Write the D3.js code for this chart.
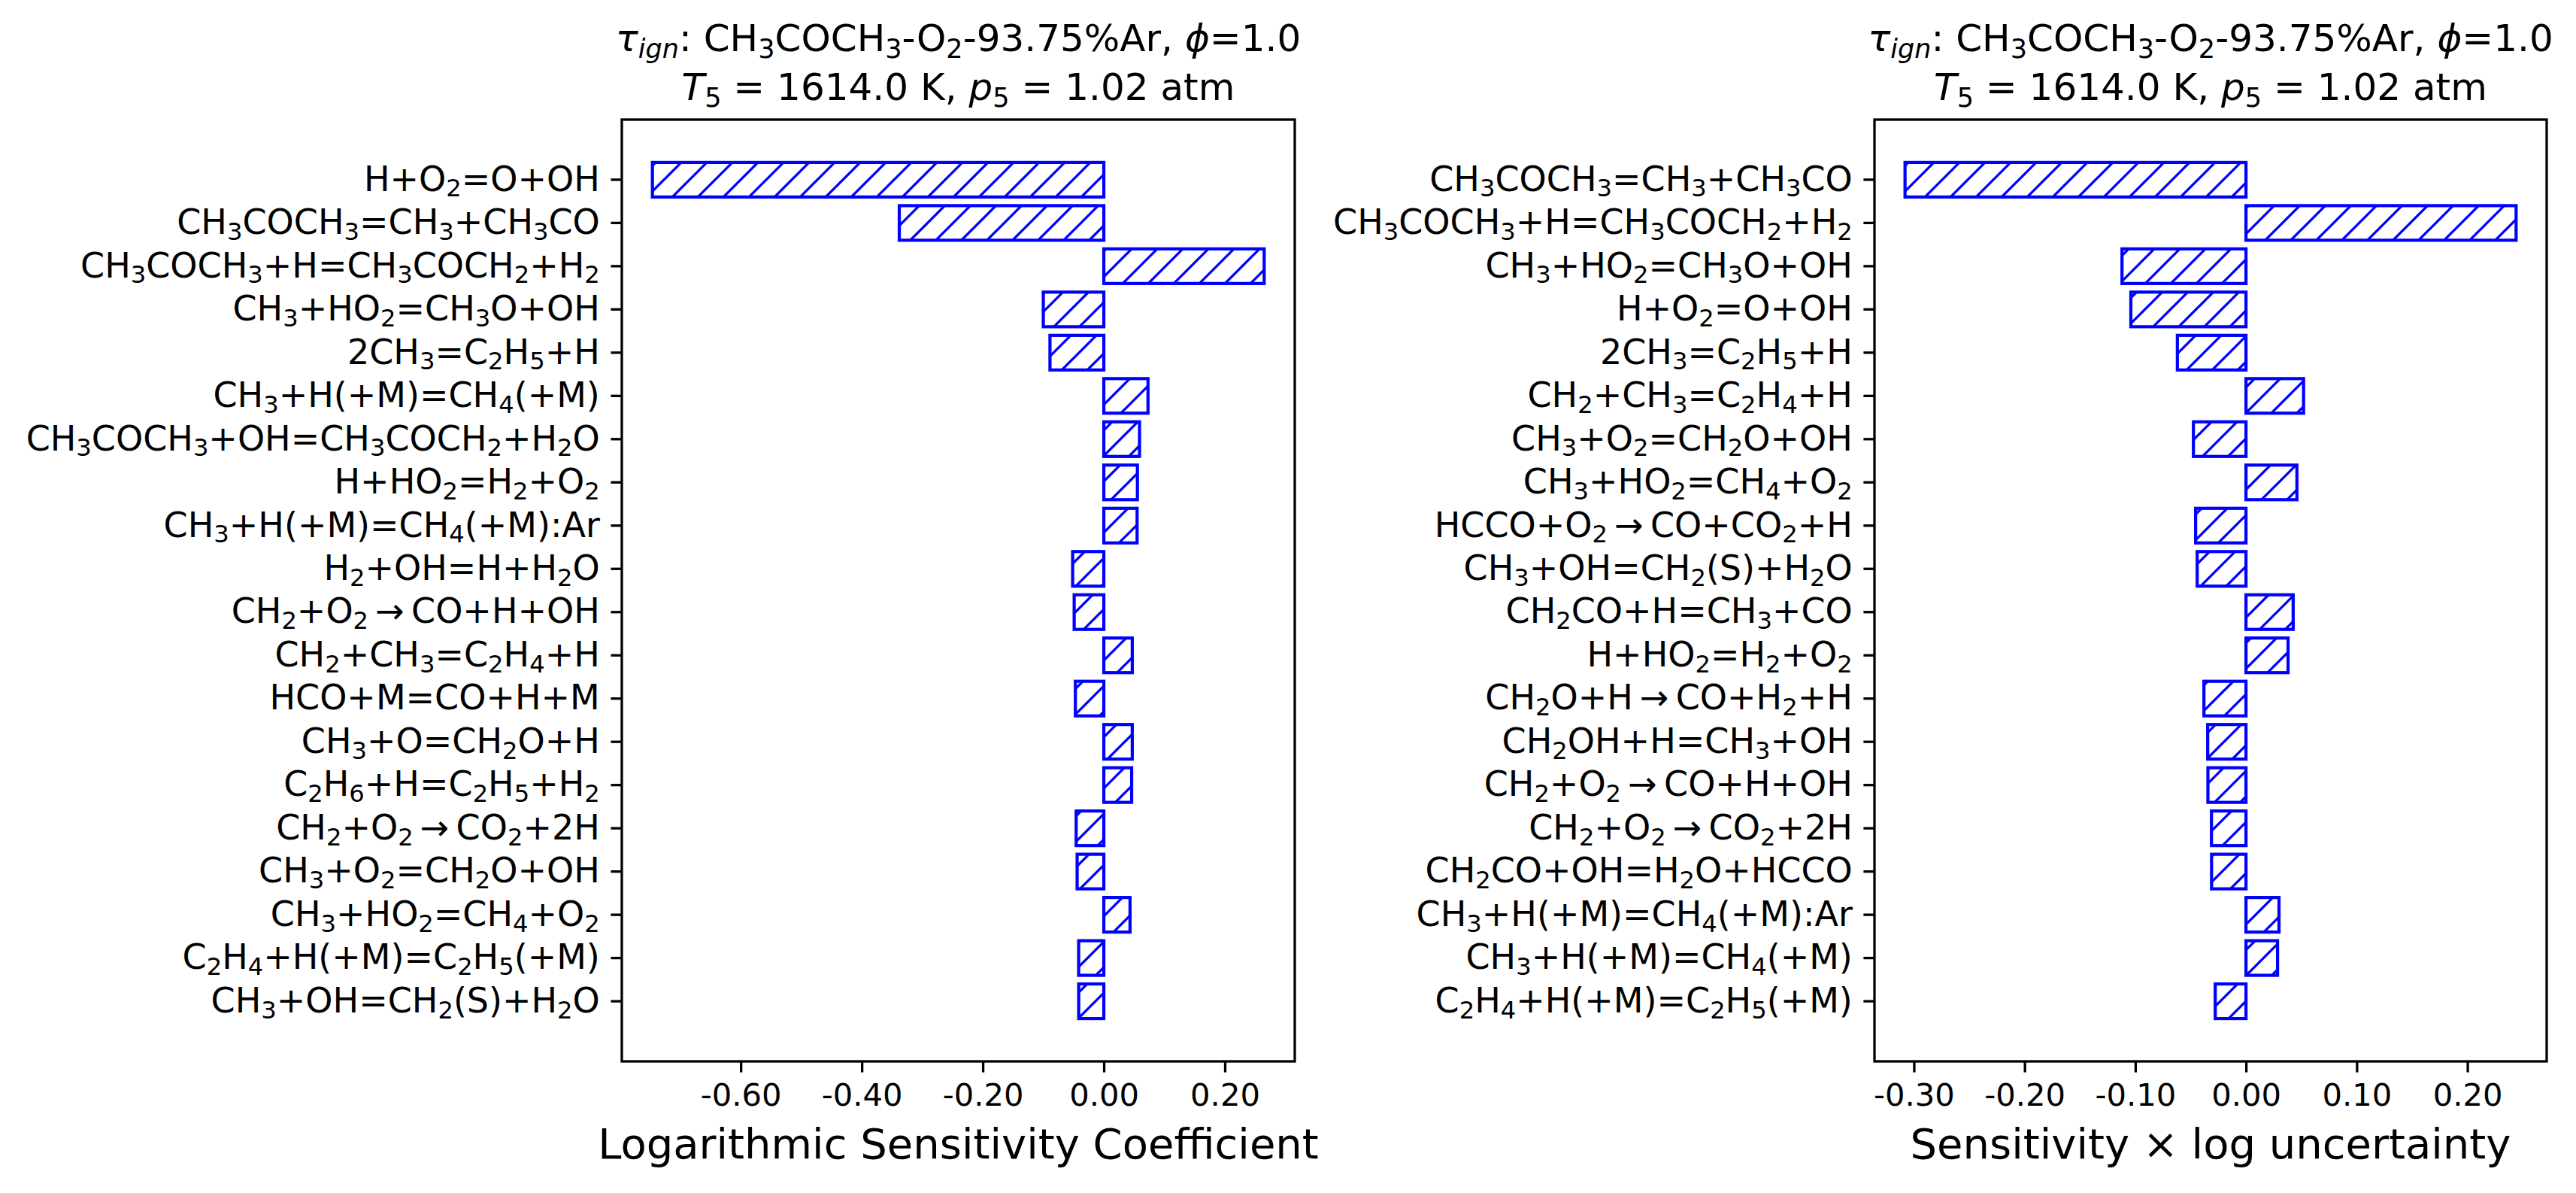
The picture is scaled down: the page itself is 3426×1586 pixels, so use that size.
<!DOCTYPE html>
<html>
<head>
<meta charset="utf-8">
<script src="https://cdn.jsdelivr.net/npm/d3@7"></script>
<style>
  body { margin: 0; background: #fff; }
  text { font-family: "DejaVu Sans", sans-serif; fill: #000; }
</style>
</head>
<body>
<div id="chart"></div>
<script>
// Data: "_3" marks a subscript digit
const leftReactions = [
  "H+O_2=O+OH", "CH_3COCH_3=CH_3+CH_3CO", "CH_3COCH_3+H=CH_3COCH_2+H_2",
  "CH_3+HO_2=CH_3O+OH", "2CH_3=C_2H_5+H", "CH_3+H(+M)=CH_4(+M)",
  "CH_3COCH_3+OH=CH_3COCH_2+H_2O", "H+HO_2=H_2+O_2", "CH_3+H(+M)=CH_4(+M):Ar",
  "H_2+OH=H+H_2O", "CH_2+O_2\u2009→\u2009CO+H+OH", "CH_2+CH_3=C_2H_4+H",
  "HCO+M=CO+H+M", "CH_3+O=CH_2O+H", "C_2H_6+H=C_2H_5+H_2",
  "CH_2+O_2\u2009→\u2009CO_2+2H", "CH_3+O_2=CH_2O+OH", "CH_3+HO_2=CH_4+O_2",
  "C_2H_4+H(+M)=C_2H_5(+M)", "CH_3+OH=CH_2(S)+H_2O"
];
const leftValues = [
  -0.746, -0.338, 0.265, -0.100, -0.089, 0.073, 0.059, 0.0555, 0.055, -0.0515,
  -0.049, 0.047, -0.047, 0.047, 0.046, -0.0457, -0.0441, 0.0433, -0.0416, -0.0415
];
const leftTicks = [-0.6, -0.4, -0.2, 0.0, 0.2];

const rightReactions = [
  "CH_3COCH_3=CH_3+CH_3CO", "CH_3COCH_3+H=CH_3COCH_2+H_2", "CH_3+HO_2=CH_3O+OH",
  "H+O_2=O+OH", "2CH_3=C_2H_5+H", "CH_2+CH_3=C_2H_4+H",
  "CH_3+O_2=CH_2O+OH", "CH_3+HO_2=CH_4+O_2", "HCCO+O_2\u2009→\u2009CO+CO_2+H",
  "CH_3+OH=CH_2(S)+H_2O", "CH_2CO+H=CH_3+CO", "H+HO_2=H_2+O_2",
  "CH_2O+H\u2009→\u2009CO+H_2+H", "CH_2OH+H=CH_3+OH", "CH_2+O_2\u2009→\u2009CO+H+OH",
  "CH_2+O_2\u2009→\u2009CO_2+2H", "CH_2CO+OH=H_2O+HCCO", "CH_3+H(+M)=CH_4(+M):Ar",
  "CH_3+H(+M)=CH_4(+M)", "C_2H_4+H(+M)=C_2H_5(+M)"
];
const rightValues = [
  -0.308, 0.244, -0.112, -0.104, -0.062, 0.052, -0.0475, 0.046, -0.0455, -0.0441,
  0.0426, 0.038, -0.038, -0.0346, -0.0344, -0.0312, -0.0311, 0.0298, 0.0285, -0.0278
];
const rightTicks = [-0.3, -0.2, -0.1, 0.0, 0.1, 0.2];

const titleLine1 = "~{τ}_{ign}: CH_3COCH_3-O_2-93.75%Ar, ~{ϕ}=1.0";
const titleLine2 = "~{T}_5 = 1614.0 K, ~{p}_5 = 1.02 atm";

const width = 3426;
const height = 1586;
const plotTop = 159, plotBottom = 1411;
const yTickFs = 46, xTickFs = 41.7, titleFs = 50, labelFs = 56;

const svg = d3.select("#chart").append("svg")
  .attr("width", width)
  .attr("height", height);

svg.append("rect").attr("width", width).attr("height", height).attr("fill", "#fff");

// hatch pattern "//"
const pat = svg.append("defs").append("pattern")
  .attr("id", "hatch")
  .attr("patternUnits", "userSpaceOnUse")
  .attr("width", 34).attr("height", 34);
pat.append("path")
  .attr("d", "M0,34L34,0M-10,10L10,-10M24,44L44,24")
  .attr("stroke", "blue")
  .attr("stroke-width", 3.3);

// write a string with subscripts (_x, _{..}) and italics (~{..})
function richText(sel, str, fs) {
  sel.text(null);
  const parts = str.split(/(_\{[^}]*\}|_.|~\{[^}]*\})/);
  let shifted = false;
  parts.forEach(p => {
    if (!p) return;
    if (p[0] === "_") {
      const t = p[1] === "{" ? p.slice(2, -1) : p.slice(1);
      const ts = sel.append("tspan")
        .attr("font-size", fs * 0.7)
        .attr("dy", shifted ? 0 : fs * 0.17)
        .text(t);
      if (t === "ign") ts.attr("font-style", "italic");
      shifted = true;
    } else {
      const ts = sel.append("tspan").attr("font-size", fs);
      if (shifted) ts.attr("dy", -fs * 0.17);
      shifted = false;
      if (p[0] === "~") ts.attr("font-style", "italic").text(p.slice(2, -1));
      else ts.text(p);
    }
  });
}

function drawPanel(left, right, reactions, values, ticks, xlabel) {
  const g = svg.append("g");

  const lo = Math.min(0, d3.min(values)), hi = Math.max(0, d3.max(values));
  const pad = (hi - lo) * 0.05;
  const x = d3.scaleLinear().domain([lo - pad, hi + pad]).range([left, right]);
  const y = d3.scaleBand().domain(reactions).range([plotTop, plotBottom])
    .paddingInner(0.2).paddingOuter(0.99);

  g.selectAll(".bar").data(values).enter()
    .append("rect")
    .attr("class", "bar")
    .attr("x", d => x(Math.min(0, d)))
    .attr("y", (d, i) => y(reactions[i]))
    .attr("width", d => Math.abs(x(d) - x(0)))
    .attr("height", y.bandwidth())
    .attr("fill", "url(#hatch)")
    .attr("stroke", "blue")
    .attr("stroke-width", 4.2);

  // y axis
  const ya = g.append("g")
    .attr("transform", `translate(${left},0)`)
    .call(d3.axisLeft(y).tickSize(14.6).tickPadding(14.6));
  ya.select(".domain").remove();
  ya.selectAll(".tick line").attr("stroke-width", 3.3);
  ya.selectAll(".tick text").each(function(d) {
    richText(d3.select(this).attr("font-size", yTickFs), d, yTickFs);
  });

  // x axis
  const xa = g.append("g")
    .attr("transform", `translate(0,${plotBottom})`)
    .call(d3.axisBottom(x).tickValues(ticks).tickFormat(d => d.toFixed(2))
      .tickSize(14.6).tickPadding(14.6));
  xa.select(".domain").remove();
  xa.selectAll(".tick line").attr("stroke-width", 3.3);
  xa.selectAll(".tick text").attr("font-size", xTickFs);

  // frame
  g.append("rect")
    .attr("x", left).attr("y", plotTop)
    .attr("width", right - left).attr("height", plotBottom - plotTop)
    .attr("fill", "none").attr("stroke", "#000").attr("stroke-width", 3.3);

  const cx = (left + right) / 2;
  richText(g.append("text").attr("x", cx).attr("y", 68).attr("text-anchor", "middle"), titleLine1, titleFs);
  richText(g.append("text").attr("x", cx).attr("y", 133).attr("text-anchor", "middle"), titleLine2, titleFs);

  g.append("text")
    .attr("x", cx).attr("y", 1540)
    .attr("text-anchor", "middle")
    .attr("font-size", labelFs)
    .text(xlabel);
}

drawPanel(827, 1722, leftReactions, leftValues, leftTicks, "Logarithmic Sensitivity Coefficient");
drawPanel(2493, 3387, rightReactions, rightValues, rightTicks, "Sensitivity × log uncertainty");
</script>
</body>
</html>
